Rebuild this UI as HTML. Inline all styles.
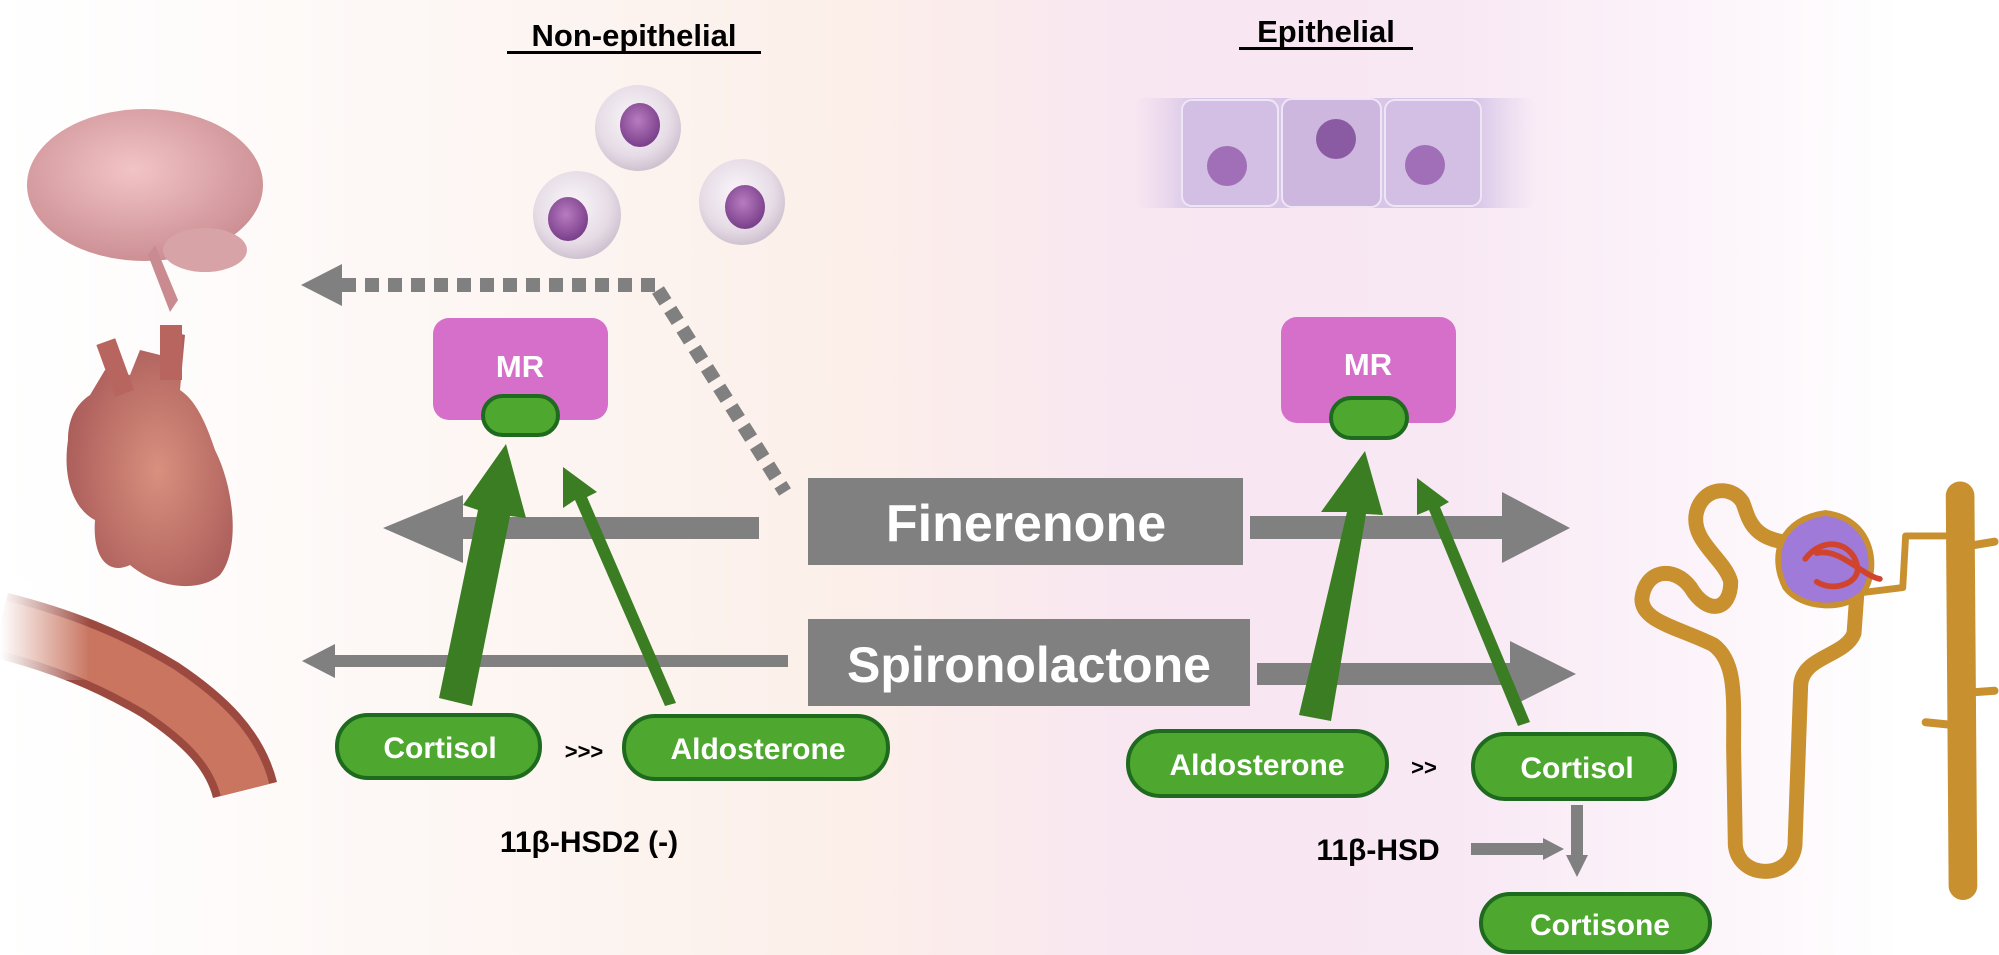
<!DOCTYPE html>
<html><head><meta charset="utf-8"><style>
html,body{margin:0;padding:0;}
body{width:1999px;height:955px;overflow:hidden;background:linear-gradient(90deg,#ffffff 0px,#fdf8f6 380px,#fcefe9 850px,#f8e6f1 1150px,#f8e8f4 1450px,#fcf4fa 1700px,#ffffff 1900px);}
svg{position:absolute;left:0;top:0;}
text{font-family:"Liberation Sans",Arial,sans-serif;font-weight:bold;}
</style></head><body>
<svg width="1999" height="955" viewBox="0 0 1999 955" xmlns="http://www.w3.org/2000/svg">
<defs>
<radialGradient id="cell" cx="45%" cy="40%" r="60%"><stop offset="0" stop-color="#fbf7fa"/><stop offset="0.7" stop-color="#e6dce6"/><stop offset="1" stop-color="#cfc2d0"/></radialGradient>
<radialGradient id="nuc" cx="45%" cy="40%" r="60%"><stop offset="0" stop-color="#b77cc0"/><stop offset="1" stop-color="#7a3f8a"/></radialGradient>
<radialGradient id="brain" cx="45%" cy="40%" r="65%"><stop offset="0" stop-color="#f2c4c6"/><stop offset="1" stop-color="#c98b90"/></radialGradient>
<radialGradient id="heart" cx="55%" cy="55%" r="60%"><stop offset="0" stop-color="#d9907e"/><stop offset="1" stop-color="#a85a58"/></radialGradient>
<linearGradient id="epi" x1="0" x2="1"><stop offset="0" stop-color="#e2d2ec" stop-opacity="0"/><stop offset="0.15" stop-color="#d8c6e8"/><stop offset="0.85" stop-color="#d8c6e8"/><stop offset="1" stop-color="#e2d2ec" stop-opacity="0"/></linearGradient>
<linearGradient id="vfade" x1="0" x2="1"><stop offset="0" stop-color="#fff" stop-opacity="1"/><stop offset="1" stop-color="#fff" stop-opacity="0"/></linearGradient>
</defs>

<!-- headers -->
<text x="634" y="46" font-size="31" text-anchor="middle" fill="#000">Non-epithelial</text>
<rect x="507" y="51" width="254" height="3" fill="#000"/>
<text x="1326" y="42" font-size="31" text-anchor="middle" fill="#000">Epithelial</text>
<rect x="1239" y="47" width="174" height="3" fill="#000"/>

<!-- brain -->
<ellipse cx="145" cy="185" rx="118" ry="76" fill="url(#brain)"/>
<ellipse cx="205" cy="250" rx="42" ry="22" fill="#d7a3a6"/>
<path d="M155 245 L178 300 L170 312 L148 255 Z" fill="#c98b90"/>
<!-- heart -->
<path d="M68 440 C62 480 75 510 95 520 C92 560 110 575 130 565 C160 590 200 592 220 575 C240 550 235 490 215 450 C205 420 195 400 180 390 L185 335 L165 330 L160 355 L140 350 L130 375 L105 370 L90 395 C75 405 68 420 68 440 Z" fill="url(#heart)"/>
<rect x="160" y="325" width="22" height="55" fill="#b86560"/>
<rect x="105" y="340" width="20" height="55" fill="#b86560" transform="rotate(-20 115 367)"/>
<!-- vessel -->
<path d="M0 625 C60 640 110 660 160 690 C205 720 235 750 245 790" stroke="#9c4a40" stroke-width="66" fill="none"/>
<path d="M0 625 C60 640 110 660 160 690 C205 720 235 750 245 790" stroke="#c97560" stroke-width="50" fill="none"/>
<rect x="0" y="580" width="90" height="100" fill="url(#vfade)"/>

<!-- non-epithelial cells -->
<circle cx="638" cy="128" r="43" fill="url(#cell)"/><ellipse cx="640" cy="125" rx="20" ry="22" fill="url(#nuc)"/>
<circle cx="577" cy="215" r="44" fill="url(#cell)"/><ellipse cx="568" cy="219" rx="20" ry="22" fill="url(#nuc)"/>
<circle cx="742" cy="202" r="43" fill="url(#cell)"/><ellipse cx="745" cy="207" rx="20" ry="22" fill="url(#nuc)"/>

<!-- epithelial strip -->
<rect x="1134" y="98" width="402" height="110" rx="10" fill="url(#epi)"/>
<rect x="1182" y="100" width="96" height="106" rx="10" fill="#d3bfe3" stroke="#efe6f5" stroke-width="2"/>
<rect x="1282" y="99" width="99" height="108" rx="10" fill="#cdb7df" stroke="#efe6f5" stroke-width="2"/>
<rect x="1385" y="100" width="96" height="106" rx="10" fill="#d3bfe3" stroke="#efe6f5" stroke-width="2"/>
<circle cx="1227" cy="166" r="20" fill="#a06fb8"/>
<circle cx="1336" cy="139" r="20" fill="#8a5aa2"/>
<circle cx="1425" cy="165" r="20" fill="#a06fb8"/>

<!-- kidney nephron -->
<g transform="translate(1100,60) scale(0.5734)" fill="none" stroke-linecap="round" stroke-linejoin="round">
<path d="M1500 760 L1505 1440" stroke="#c8902e" stroke-width="50"/>
<path d="M1500 850 L1560 840 M1490 1105 L1560 1100 M1440 1155 L1490 1160" stroke="#c8902e" stroke-width="14"/>
<path d="M1190 840 C1130 830 1130 790 1120 770 C1100 740 1050 745 1040 790 C1030 840 1090 870 1100 910 C1100 960 1060 970 1030 920 C1000 880 950 890 945 940 C945 980 1010 990 1070 1020 C1110 1050 1105 1110 1105 1200 L1108 1370 C1115 1430 1205 1430 1212 1370 L1222 1090 C1225 1040 1300 1040 1315 1000 L1320 930" stroke="#c8902e" stroke-width="26"/>
<path d="M1320 930 L1400 920 L1405 830 L1475 830" stroke="#c8902e" stroke-width="12"/>
<path d="M1265 790 C1190 800 1165 860 1195 920 C1225 960 1300 960 1330 930 C1360 890 1350 800 1265 790 Z" fill="#a07ad8" stroke="#c8902e" stroke-width="10"/>
<path d="M1230 870 C1260 830 1310 840 1320 880 C1330 910 1280 930 1250 910 M1250 860 C1290 850 1330 900 1360 905" stroke="#d0442e" stroke-width="10"/>
</g>

<!-- dotted arrow -->
<polyline points="655,285 342,285" fill="none" stroke="#808080" stroke-width="14" stroke-dasharray="14,9"/>
<line x1="658" y1="290" x2="785" y2="492" stroke="#808080" stroke-width="14" stroke-dasharray="14,9"/>
<polygon points="301,285 342,264 342,306" fill="#808080"/>

<!-- Finerenone arrows -->
<rect x="463" y="517" width="296" height="22" fill="#808080"/>
<polygon points="383,528 463,495 463,563" fill="#808080"/>
<rect x="1250" y="516" width="252" height="23" fill="#808080"/>
<polygon points="1570,528 1502,492 1502,563" fill="#808080"/>
<!-- Spironolactone arrows -->
<rect x="335" y="655" width="453" height="12" fill="#808080"/>
<polygon points="302,661 335,644 335,678" fill="#808080"/>
<rect x="1257" y="663" width="253" height="22" fill="#808080"/>
<polygon points="1576,674 1510,641 1510,707" fill="#808080"/>

<!-- Finerenone / Spironolactone boxes -->
<rect x="808" y="478" width="435" height="87" fill="#808080"/>
<text x="1026" y="541" font-size="52" fill="#fff" text-anchor="middle">Finerenone</text>
<rect x="808" y="619" width="442" height="87" fill="#808080"/>
<text x="1029" y="682" font-size="50" fill="#fff" text-anchor="middle">Spironolactone</text>

<!-- MR boxes -->
<rect x="433" y="318" width="175" height="102" rx="16" fill="#d56fca"/>
<text x="520" y="377" font-size="31" fill="#fff" text-anchor="middle">MR</text>
<rect x="483" y="396" width="75" height="39" rx="19.5" fill="#4ea72e" stroke="#1e6a1e" stroke-width="4"/>
<rect x="1281" y="317" width="175" height="106" rx="16" fill="#d56fca"/>
<text x="1368" y="375" font-size="31" fill="#fff" text-anchor="middle">MR</text>
<rect x="1331" y="398" width="76" height="40" rx="20" fill="#4ea72e" stroke="#1e6a1e" stroke-width="4"/>

<!-- green arrows left -->
<polygon points="439,698 472,706 510,516 526,518 506,444 463,505 478,510" fill="#3b7d23"/>
<polygon points="665,706 676,703 587,497 597,492 563,467 563,508 575,500" fill="#3b7d23"/>
<!-- green arrows right -->
<polygon points="1299,715 1331,721 1366,514 1383,515 1365,451 1321,512 1347,512" fill="#3b7d23"/>
<polygon points="1518,726 1530,722 1440,507 1449,502 1417,478 1417,515 1429,510" fill="#3b7d23"/>

<!-- hormone pills -->
<rect x="337" y="715" width="203" height="63" rx="31" fill="#4ea72e" stroke="#1e6a1e" stroke-width="4"/>
<text x="440" y="758" font-size="30" fill="#fff" text-anchor="middle">Cortisol</text>
<text x="584" y="759" font-size="22" fill="#000" text-anchor="middle">&gt;&gt;&gt;</text>
<rect x="624" y="716" width="264" height="63" rx="31" fill="#4ea72e" stroke="#1e6a1e" stroke-width="4"/>
<text x="758" y="759" font-size="30" fill="#fff" text-anchor="middle">Aldosterone</text>
<text x="589" y="852" font-size="30" fill="#000" text-anchor="middle">11β-HSD2 (-)</text>

<rect x="1128" y="731" width="259" height="65" rx="32" fill="#4ea72e" stroke="#1e6a1e" stroke-width="4"/>
<text x="1257" y="775" font-size="30" fill="#fff" text-anchor="middle">Aldosterone</text>
<text x="1424" y="775" font-size="22" fill="#000" text-anchor="middle">&gt;&gt;</text>
<rect x="1473" y="734" width="202" height="65" rx="32" fill="#4ea72e" stroke="#1e6a1e" stroke-width="4"/>
<text x="1577" y="778" font-size="30" fill="#fff" text-anchor="middle">Cortisol</text>
<text x="1378" y="860" font-size="30" fill="#000" text-anchor="middle">11β-HSD</text>
<rect x="1471" y="843" width="75" height="12" fill="#808080"/>
<polygon points="1564,849 1543,838 1543,860" fill="#808080"/>
<rect x="1571" y="805" width="12" height="52" fill="#808080"/>
<polygon points="1577,877 1566,855 1588,855" fill="#808080"/>
<rect x="1481" y="894" width="229" height="58" rx="29" fill="#4ea72e" stroke="#1e6a1e" stroke-width="4"/>
<text x="1600" y="935" font-size="30" fill="#fff" text-anchor="middle">Cortisone</text>
</svg>
</body></html>
